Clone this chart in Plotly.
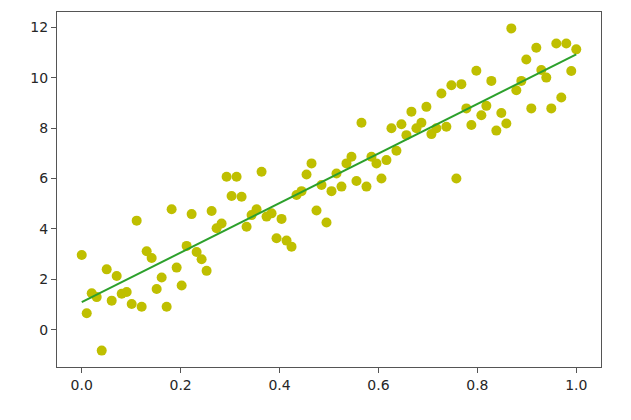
"""Scatter of noisy points with a fitted straight line."""

import plotly.graph_objects as go

# 100 points, x evenly spaced on [0, 1]
n_points = 100
x_vals = [i / (n_points - 1) for i in range(n_points)]
y_vals = [
    2.97, 0.66, 1.45, 1.30, -0.82, 2.40, 1.16, 2.14, 1.43, 1.50,
    1.03, 4.33, 0.92, 3.12, 2.85, 1.62, 2.08, 0.92, 4.78, 2.47,
    1.76, 3.33, 4.59, 3.09, 2.80, 2.34, 4.71, 4.03, 4.22, 6.07,
    5.31, 6.07, 5.28, 4.09, 4.55, 4.78, 6.27, 4.49, 4.62, 3.63,
    4.40, 3.54, 3.30, 5.35, 5.50, 6.16, 6.60, 4.73, 5.74, 4.26,
    5.50, 6.20, 5.68, 6.60, 6.86, 5.90, 8.21, 5.68, 6.86, 6.60,
    6.00, 6.73, 7.99, 7.10, 8.15, 7.72, 8.65, 7.99, 8.21, 8.84,
    7.76, 7.99, 9.37, 8.05, 9.70, 6.00, 9.74, 8.78, 8.12, 10.27,
    8.51, 8.88, 9.87, 7.90, 8.60, 8.18, 11.95, 9.50, 9.87, 10.72,
    8.78, 11.18, 10.30, 10.00, 8.78, 11.35, 9.21, 11.35, 10.26, 11.12,
]

# fitted line end points
fit_x = [0.0, 1.0]
fit_y = [1.10, 10.92]

x_ticks = [0.0, 0.2, 0.4, 0.6, 0.8, 1.0]
y_ticks = [0, 2, 4, 6, 8, 10, 12]

fig = go.Figure()

fig.add_trace(go.Scatter(
    x=x_vals,
    y=y_vals,
    mode="markers",
    marker=dict(color="#bfbf00", size=10, line=dict(width=0)),
    showlegend=False,
))

fig.add_trace(go.Scatter(
    x=fit_x,
    y=fit_y,
    mode="lines",
    line=dict(color="#2ca02c", width=2),
    showlegend=False,
))

axis_style = dict(
    showgrid=False,
    zeroline=False,
    showline=True,
    linecolor="#555",
    linewidth=1,
    mirror=True,
    ticks="outside",
    ticklen=5,
    tickwidth=1,
    tickcolor="#555",
    tickfont=dict(family="DejaVu Sans", size=14, color="#262626"),
)

fig.update_xaxes(
    range=[-0.05, 1.05],
    tickvals=x_ticks,
    ticktext=[f"{t:.1f}" for t in x_ticks],
    **axis_style,
)
fig.update_yaxes(
    range=[-1.47, 12.6],
    tickvals=y_ticks,
    ticktext=[str(t) for t in y_ticks],
    **axis_style,
)

# page body adds an 8px margin, so the figure is shrunk to fit the window
fig.update_layout(
    width=623,
    height=412,
    margin=dict(l=49, r=30, t=4, b=53),
    plot_bgcolor="white",
    paper_bgcolor="white",
)

fig.write_html("out.html")
